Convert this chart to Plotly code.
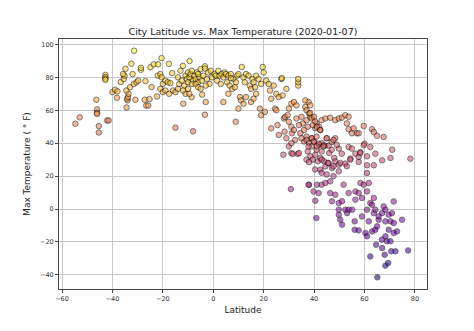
import plotly.graph_objects as go

# (latitude, max temperature) pairs
lat = [
    -54.7, -53, -46.4, -46.1, -46.1, -46.1, -45.4, -45.4, -42.1, -41.5, -42.8, -42.8, -42.8, -42.8,
    -40, -39, -38, -38.2, -36.7, -35.5, -35.2, -35.8, -34.8, -34.4, -34, -34.2, -33.8, -33.6, -34.5, -33,
    -32.5, -32, -31.4, -31.5, -30.9, -30.5, -29.8, -28.7, -28.7, -27.2, -26.9, -26.6, -25.8, -25.3, -24.9,
    -24.5, -23.6,
    -22.3, -21.9, -20.5, -22, -21, -20.5, -20, -19, -18, -17, -21, -20, -19, -17.5, -16, -15, -14, -17.6,
    -16.3, -15, -14, -13.5, -13, -12.5, -12, -11.9, -11.5, -11, -11, -12, -10.5, -10,
    -9.4, -10, -9.5, -9, -8.5, -8, -7.5, -7, -6.5, -6, -5.5, -5, -4.6, -8.5, -7, -6, -10, -8.6, -9.5,
    -4.4, -3.0, -3.3, -8, -3.3, -3.3, -4, -2.5, -2, -1.5, -1, -0.5, -6, -5, -3,
    0.5, 1, 1.5, 2, 2.5, 3.3, 4, 4.5, 5, 5.5, 6, 6.5, 7, 7.5, 8, 8.6, 9, 9.5, 10, 10, 8.9, 10.6, 4, 6, 7, 3,
    11.3, 12, 12.5, 13, 14, 14.5, 15, 15.5, 16, 16.6, 11, 12, 13, 15, 17, 18, 18.5, 19, 19.6, 20, 20.5, 19,
    17, 16,
    21, 22, 22.5, 23, 23, 24, 24.5, 25, 25.5, 26, 26, 27, 27.2, 27.5, 27.8, 28, 28.5, 28.3, 29, 29.5, 30,
    30.8, 31, 31.2, 31.5, 25, 29,
    31, 32, 33, 33.7, 33.7, 33.7, 33.5, 34, 35, 35.5, 36, 36.5, 37, 37.8, 37, 36, 38, 36.5, 37, 38, 38.5,
    38.5, 37.5,
    37, 38, 39, 40, 41, 42, 43, 37.5, 38.5, 39.5, 40.5, 41.5, 42.5, 39, 41, 43, 37, 38,
    39, 40, 41, 42, 40.5, 42.5, 39.5, 43,
    44.5, 46.4, 48.4, 49.8, 51, 52.4, 53.7, 53, 53.7, 55, 55.7, 57, 57.7, 59.7, 63, 63.7, 65, 67.6,
    45, 48.4, 44.5, 45.8, 60, 62.3, 59.7,
    53.7, 55, 56.4, 58.4, 54.4, 57.7, 51, 52.4, 57.7, 61, 63.7, 64.3, 67, 70.3, 71, 78.2,
    41.8, 43.8, 47, 49.8, 46, 48, 44,
    37.8, 39.8, 40.5, 41.8, 41.1, 40.9, 43, 44.5, 46.4, 42.5, 44.5, 45.8, 47.1, 48.4, 49.8, 49.8,
    46.4, 47.1, 48.4, 49.8, 51.1, 49.8, 49.8, 50.4, 51.1, 52.4, 53.1, 53.7, 55.1, 56.1,
    51.7, 53.7, 56.4, 57.7, 56.4, 59, 58.4, 59.7, 61, 61.7, 61,
    56.1, 57.7, 60.4, 61, 61.7, 63, 64.3, 65, 63.7, 65.6, 67, 67.6, 68.3, 69.6, 70.9, 71.6, 68.3, 70.3,
    71.6, 69.6, 68.3, 66.9, 68.9, 70.3, 71.6, 72.9, 72.3, 74.9, 77.3,
    59, 61, 62.3, 63.7, 63, 64.3, 65.6,
    62.3, 68, 68.3, 69.4, 65.1,
    64.6, 67, 70.6,
    30, 31, 32, 33, 34, 34.5, 35, 32.5, 30, 31,
    38.4, 40.4, 41.1, 42.4, 39.1, 39.8, 37.8, 41.1, 45, 47.7, 43.7, 47, 49, 43, 45.5, 47.7,
    40.4, 43, 45, 47.7, 50.4, 53, 54.4, 58.3, 61,
]
max_temp = [
    51.8, 55.7, 66.4, 60.5, 58.5, 57.8, 50.4, 46.5, 53.8, 53.8, 81.5, 80.2, 79.2, 78.5,
    71, 72.5, 71.5, 67.6, 77.2, 79, 81, 82, 85.2, 61.7, 66, 67, 68, 70, 72, 74,
    88.3, 82, 96.2, 76, 66.4, 77, 78, 84.6, 85.8, 66.4, 77.7, 62.9, 62.9, 66.8, 86.2,
    74.1, 87.9,
    68.4, 87.9, 91.7, 81, 82, 80, 76, 78, 77, 76.5, 73, 71, 72, 70, 72, 71, 73, 88.2,
    82.6, 49.4, 80, 76, 84, 78, 87, 64, 75, 81, 70, 72, 79, 83,
    89.9, 77, 80, 82, 84, 78, 81, 79, 83, 77, 80, 85, 78, 76, 76, 82, 73, 68, 70,
    69.5, 65, 57.3, 47.2, 86.7, 85.3, 81, 79, 83, 76, 84, 80, 74, 73, 75,
    82, 81, 78, 84, 81, 82, 80, 83, 82, 77, 81, 75, 82, 73, 79, 74, 77, 81, 82, 61, 53, 68, 65, 70, 79.5, 76,
    86.3, 80, 77, 82, 81, 75, 73, 79, 77, 74, 66, 64, 68, 65, 81, 79, 61, 57, 86.3, 83, 59, 76,
    70, 67,
    78, 76, 72, 67, 49, 75, 61, 70, 51, 68, 45, 79, 79.5, 69, 33, 55, 56, 47, 43, 57, 61,
    12.1, 34, 46, 33.5, 60, 73,
    64, 65, 63, 75, 77, 79, 33.5, 34, 56, 52, 48, 62, 54, 65, 44, 41, 14.7, 66, 60, 58, 56,
    63, 50,
    42, 40, 38, 41, 36, 39, 35, 35, 32, 30, 33, 29, 31, 43, 44, 40, 30, 28.5,
    55, 56, 52, 50, 49, 48, 51, 54,
    55, 55.5, 54, 55, 55.5, 57, 56, 52, 48.5, 46, 49, 46, 46, 50.5, 48.5, 46.8, 44.5, 43.8,
    43, 43, 38.5, 38.5, 39.7, 37.7, 38.7,
    37.7, 36.7, 33.6, 34.6, 30.6, 31.6, 33.6, 27.6, 28.6, 26.6, 26.6, 33.6, 29.6, 31, 36, 30.6,
    39.7, 38.7, 40.7, 36.7, 34, 31, 29,
    14.8, 10.7, 5.0, 9.7, 14.8, -5.5, 14.8, 15.8, 16.8, 23.9, 25.9, 27.9, 24.9, 28.9, 26.9, 22.9,
    9.7, 4.7, 8.7, 3.6, 4.7, -0.4, -3.5, -6.5, -9.5, -0.4, -2.5, -0.4, -0.4, -7.5,
    14.8, 9.7, 10.7, 9.7, 5.7, 6.7, 15.8, 14.8, 10.7, 15.8, 21.9,
    -12.6, -13, -14.6, -16.6, -7.5, -13.6, -12.6, -10.5, -2.5, -6.5, -2.5, 1.6, -0.4, -3.5, -2.5, 4.6, -7.5, -7.5,
    -8.5, -12.6, -16.6, -18.6, -19.6, -19.6, -14.6, -13.6, -25.7, -6.5, -25.2,
    -4.5, -0.4, 3.6, 6.7, 2.6, -0.4, -4.5,
    -28.8, -27.8, -34.4, -32.8, -41.5,
    -21.7, -23.7, -25.7,
    53, 50, 48, 55, 51, 46, 43, 42, 38, 40,
    58.3, 53.2, 50, 48, 43, 41, 38, 38, 43, 42, 38, 36, 39, 30, 28, 26,
    24, 22, 21, 20, 28, 26, 30, 34, 32,
]

x_ticks = [-60, -40, -20, 0, 20, 40, 60, 80]
y_ticks = [-40, -20, 0, 20, 40, 60, 80, 100]

fig = go.Figure(go.Scatter(
    x=lat, y=max_temp, mode="markers",
    marker=dict(size=5.5, color=max_temp, colorscale="Plasma",
                cmin=min(max_temp), cmax=max(max_temp), opacity=0.58,
                line=dict(color="black", width=0.9)),
    showlegend=False,
))

axis_common = dict(showline=True, linecolor="#444", linewidth=1, mirror=True,
                   showgrid=True, gridcolor="#c8c8c8", gridwidth=0.8,
                   ticks="outside", ticklen=3, tickcolor="#444", zeroline=False,
                   tickfont=dict(size=6.5, color="#333"))

fig.update_layout(
    width=474, height=331,
    margin=dict(l=59, r=47, t=39, b=42),
    paper_bgcolor="white", plot_bgcolor="white",
    font=dict(family="DejaVu Sans", color="#222"),
    title=dict(text="City Latitude vs. Max Temperature (2020-01-07)",
               x=(59 + 427) / 2 / 474, xanchor="center", y=1 - 32 / 331, yanchor="middle",
               font=dict(size=9.5, color="#222")),
    xaxis=dict(range=[-61.2, 84.8], tickvals=x_ticks,
               title=dict(text="Latitude", font=dict(size=9), standoff=4), **axis_common),
    yaxis=dict(range=[-48.6, 103.3], tickvals=y_ticks,
               title=dict(text="Max Temperature ( ° F)", font=dict(size=9), standoff=7), **axis_common),
)

fig.write_html("out.html")
